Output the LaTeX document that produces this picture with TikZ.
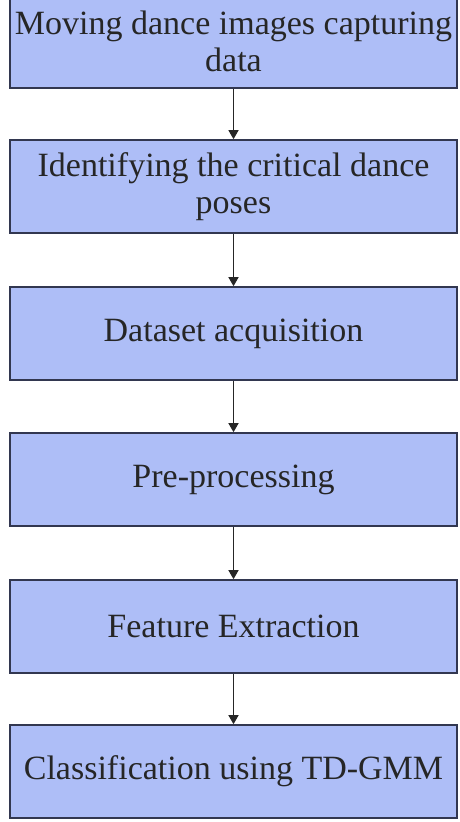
\documentclass[tikz,border=0pt]{standalone}
\usepackage{fontspec}
\setmainfont{Liberation Serif}
\usetikzlibrary{arrows.meta}
\definecolor{stagefill}{RGB}{174,190,247}
\definecolor{stageline}{RGB}{50,55,80}

\begin{document}
\begin{tikzpicture}[x=1pt,y=1pt,
			stage/.style = {rectangle,draw=stageline,fill=stagefill,line width=1.6pt,minimum width=447pt,minimum height=93pt,align=center,inner sep=2pt,font=\fontsize{34}{37.5}\selectfont,text=black!85},
			flow/.style = {-{Triangle[length=9pt,width=10pt]},line width=1.3pt,black!85}]

\useasboundingbox (0,0) rectangle (460,-822);

\node[stage] (capture) at (233.5,-41.5) {Moving dance images capturing\\data};
\node[stage] (poses) at (233.5,-186.5) {Identifying the critical dance\\poses};
\node[stage] (dataset) at (233.5,-333.5) {Dataset acquisition};
\node[stage] (preproc) at (233.5,-479.5) {Pre-processing};
\node[stage] (feature) at (233.5,-626.5) {Feature Extraction};
\node[stage] (classify) at (233.5,-771.5) {Classification using TD-GMM};

\draw[flow] (capture) -- (poses);
\draw[flow] (poses) -- (dataset);
\draw[flow] (dataset) -- (preproc);
\draw[flow] (preproc) -- (feature);
\draw[flow] (feature) -- (classify);

\end{tikzpicture}
\end{document}
